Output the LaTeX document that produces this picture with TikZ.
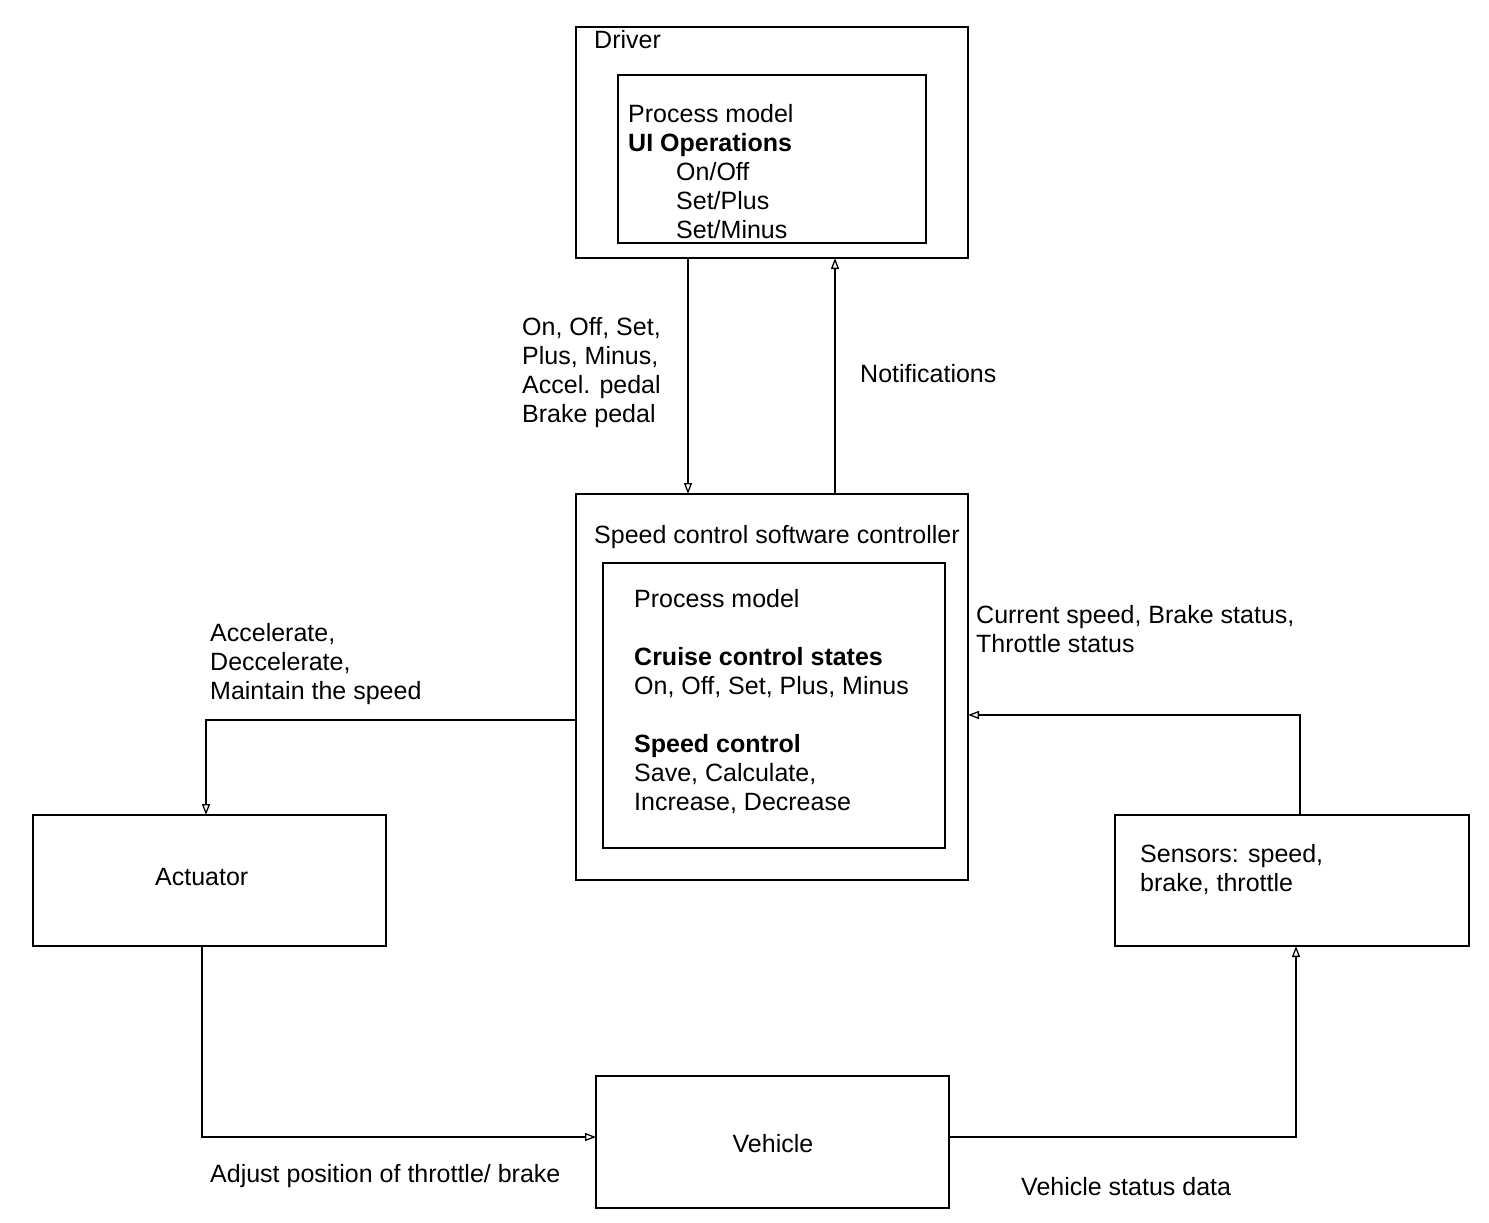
\documentclass[tikz,border=0pt]{standalone}
\usepackage{fontspec}
\setmainfont{Liberation Sans}
\usetikzlibrary{arrows.meta}
\begin{document}
\begin{tikzpicture}[x=1pt,y=-1pt,
  box/.style={draw,line width=1.3pt},
  lbl/.style={anchor=north west,inner sep=0pt,align=left,font=\fontsize{25}{29}\selectfont},
  arr/.style={line width=1.3pt,-{Triangle[open,length=11pt,width=8pt]}}]
\useasboundingbox (0,0) rectangle (1489,1223);
\draw[box] (576,27) rectangle (968,258) coordinate (dr);
\draw[box] (618,75) rectangle (926,243) coordinate (dri);
\draw[box] (576,494) rectangle (968,880) coordinate (sc);
\draw[box] (603,563) rectangle (945,848) coordinate (sci);
\draw[box] (33,815) rectangle (386,946) coordinate (ac);
\draw[box] (1115,815) rectangle (1469,946) coordinate (se);
\draw[box] (596,1076) rectangle (949,1208) coordinate (ve);
\node[lbl] (t1) at (594,30) {Driver};
\node[lbl] (t2) at (628,104) {Process model\\\textbf{UI Operations}\\\hspace{48pt}On/Off\\\hspace{48pt}Set/Plus\\\hspace{48pt}Set/Minus};
\node[lbl] (t3) at (522,317) {On, Off, Set,\\Plus, Minus,\\Accel. pedal\\Brake pedal};
\node[lbl] (t4) at (860,364) {Notifications};
\node[lbl] (t5) at (594,525) {Speed control software controller};
\node[lbl] (t6) at (634,589) {Process model\\[29pt]\textbf{Cruise control states}\\On, Off, Set, Plus, Minus\\[29pt]\textbf{Speed control}\\Save, Calculate,\\Increase, Decrease};
\node[lbl] (t7) at (210,623) {Accelerate,\\Deccelerate,\\Maintain the speed};
\node[lbl] (t8) at (976,605) {Current speed, Brake status,\\Throttle status};
\node[lbl] (t9) at (155,868) {Actuator};
\node[lbl] (t10) at (1140,844) {Sensors: speed,\\brake, throttle};
\node[lbl,anchor=north] (t11) at (773,1134) {Vehicle};
\node[lbl] (t12) at (210,1164) {Adjust position of throttle/ brake};
\node[lbl] (t13) at (1021,1177) {Vehicle status data};
\coordinate (a1) at (688,258); \coordinate (a2) at (688,494);
\draw[arr] (a1) -- (a2);
\coordinate (b1) at (835,494); \coordinate (b2) at (835,258);
\draw[arr] (b1) -- (b2);
\coordinate (c1) at (576,720); \coordinate (c2) at (206,815);
\draw[arr] (c1) -| (c2);
\coordinate (d1) at (1300,815); \coordinate (d2) at (968,715);
\draw[arr] (d1) |- (d2);
\coordinate (e1) at (202,946); \coordinate (e2) at (596,1137);
\draw[arr] (e1) |- (e2);
\coordinate (f1) at (949,1137); \coordinate (f2) at (1296,946);
\draw[arr] (f1) -| (f2);
\end{tikzpicture}
\end{document}
